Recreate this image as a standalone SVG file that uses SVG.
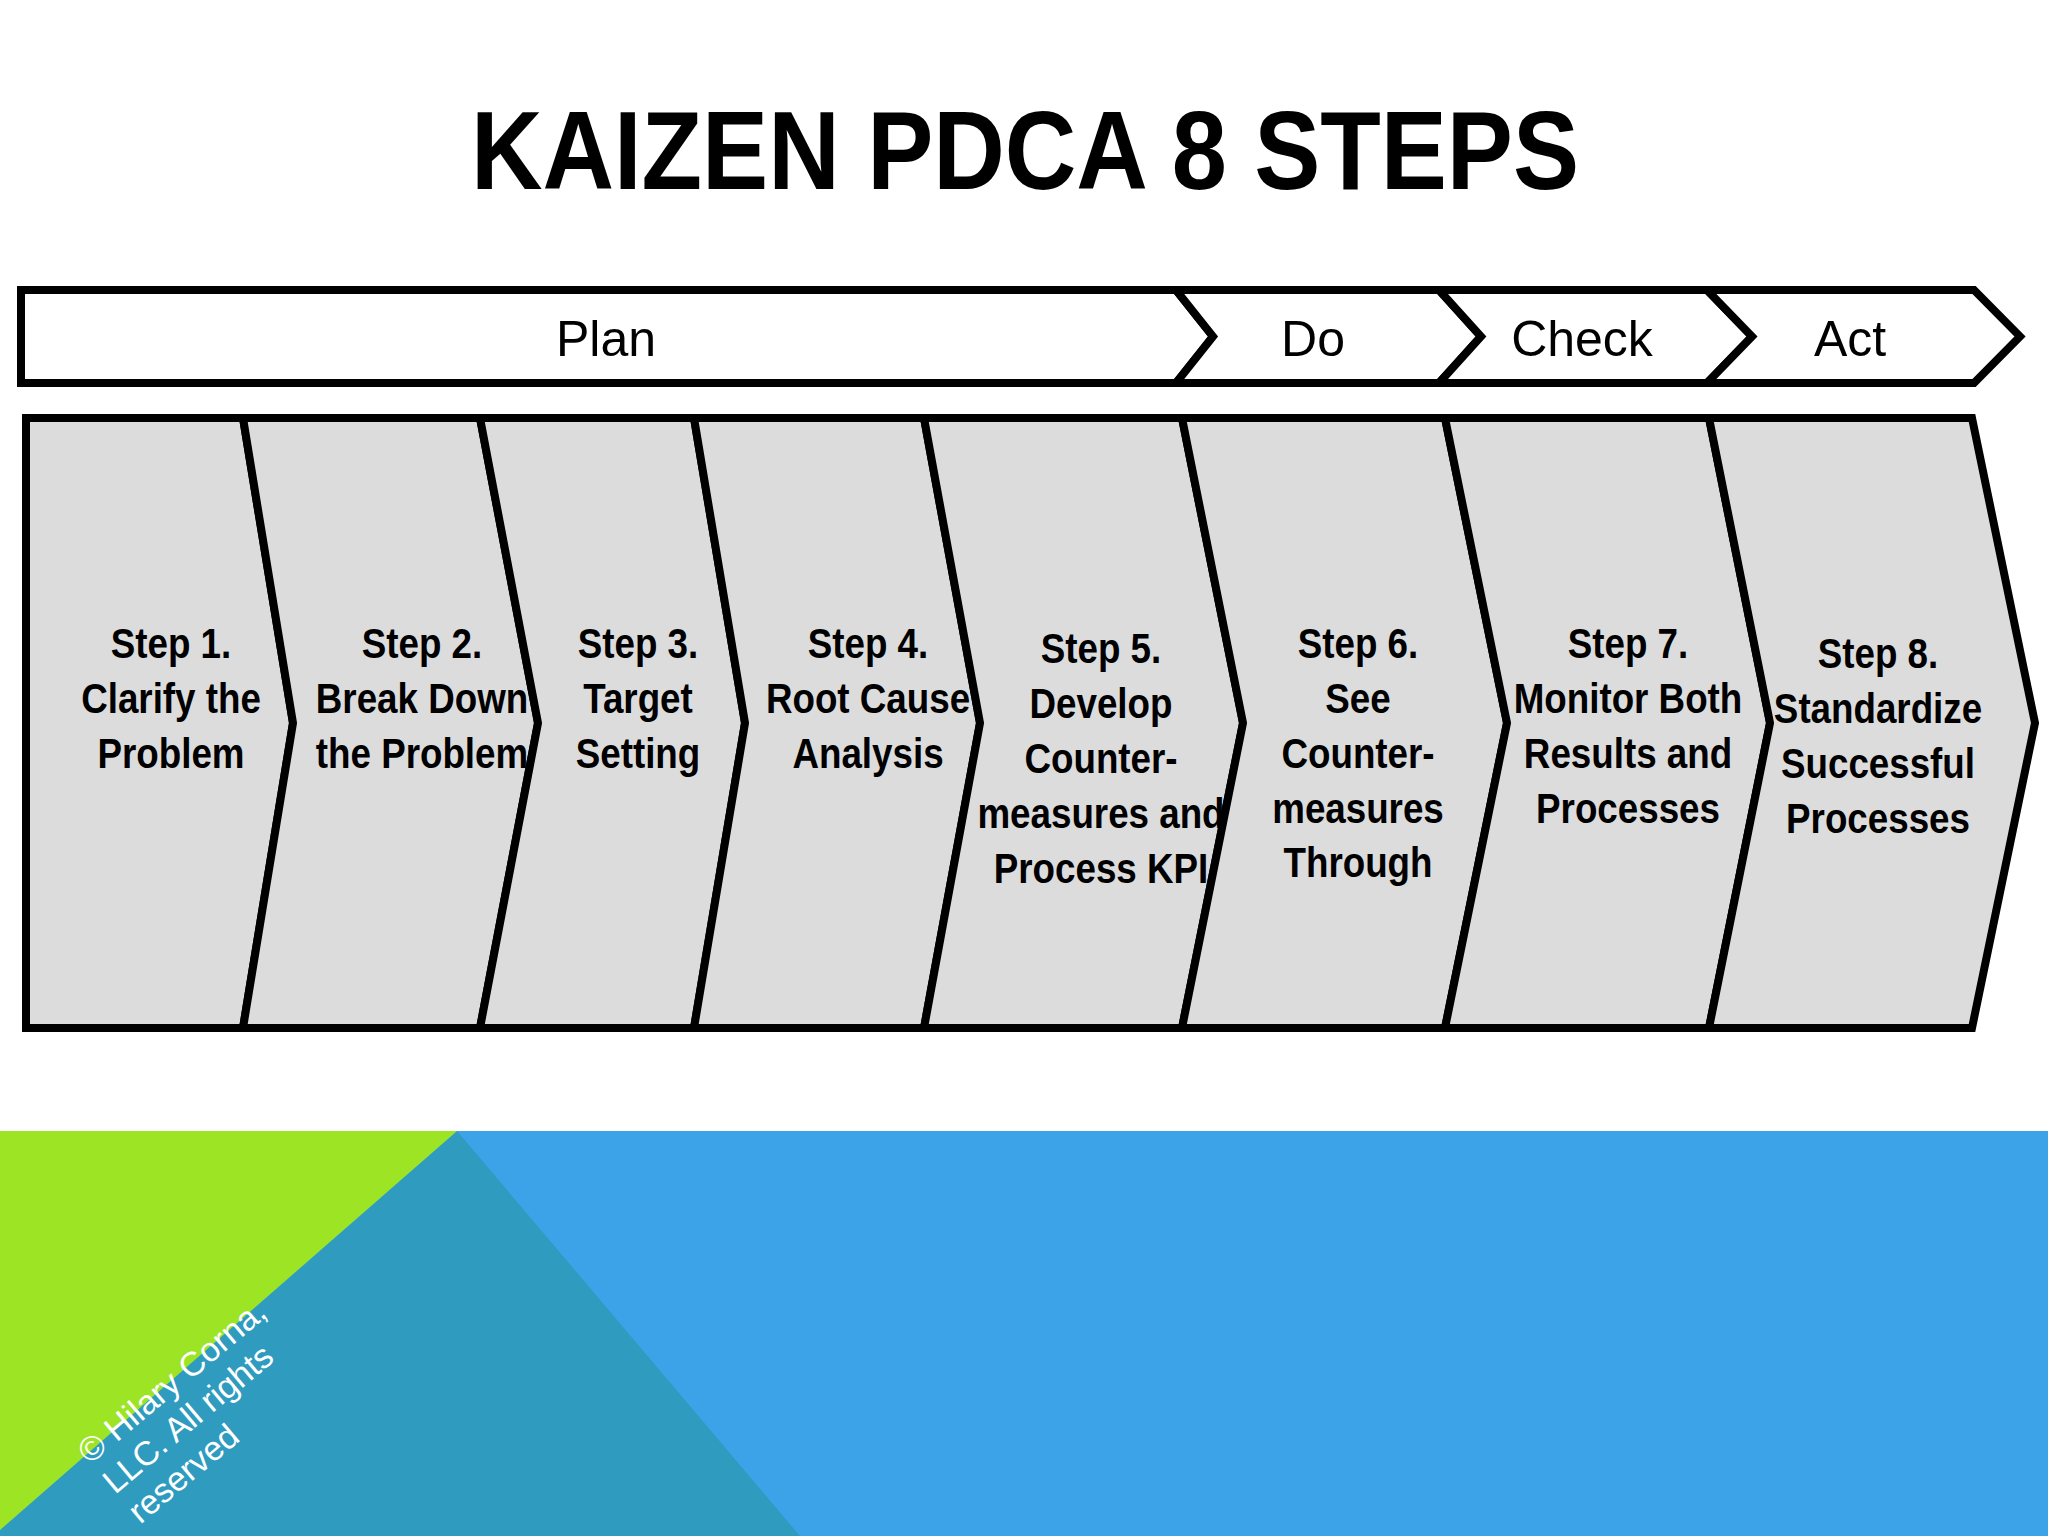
<svg xmlns="http://www.w3.org/2000/svg" width="2048" height="1536" viewBox="0 0 2048 1536">
  <style>
    .bar { fill: #ffffff; stroke: #000000; stroke-width: 8; stroke-linejoin: miter; }
    .chev { fill: #dcdcdc; stroke: #000000; stroke-width: 8; stroke-linejoin: miter; }
    .phase { font-family: "Liberation Sans", Arial, sans-serif; font-size: 50px; fill: #000000; text-anchor: middle; }
    .st { font-family: "Liberation Sans", Arial, sans-serif; font-weight: bold; font-size: 42px; fill: #000000; text-anchor: middle; }
    .title { font-family: "Liberation Sans", Arial, sans-serif; font-weight: bold; font-size: 112px; fill: #000000; text-anchor: middle; }
    .copy { font-family: "Liberation Sans", Arial, sans-serif; font-size: 34px; fill: #ffffff; }
  </style>
  <rect x="0" y="0" width="2048" height="1536" fill="#ffffff"/>

  <!-- bottom decoration -->
  <g id="footer">
    <rect x="0" y="1131" width="2048" height="405" fill="#3ca3e8"/>
    <polygon points="457,1131 800,1536 0,1536 0,1530" fill="#2e9bbf"/>
    <polygon points="0,1131 457,1131 0,1530" fill="#9de524"/>
    <text class="copy" transform="translate(90,1465) rotate(-40)"><tspan x="0" y="0">© Hilary Corna,</tspan><tspan x="0" y="39">LLC. All rights</tspan><tspan x="0" y="78">reserved</tspan></text>
  </g>

  <text id="title" class="title" x="1025" y="189" textLength="1108" lengthAdjust="spacingAndGlyphs">KAIZEN PDCA 8 STEPS</text>

  <!-- phase bar -->
  <g id="phase-plan">
    <path class="bar" d="M21,290 L1176,290 L1213,336.5 L1176,383 L21,383 Z"/>
    <text class="phase" x="606" y="356">Plan</text>
  </g>
  <g id="phase-do">
    <path class="bar" d="M1176,290 L1439,290 L1481,336.5 L1439,383 L1176,383 L1213,336.5 Z"/>
    <text class="phase" x="1313" y="356">Do</text>
  </g>
  <g id="phase-check">
    <path class="bar" d="M1439,290 L1707,290 L1752,336.5 L1707,383 L1439,383 L1481,336.5 Z"/>
    <text class="phase" x="1582" y="356">Check</text>
  </g>
  <g id="phase-act">
    <path class="bar" d="M1707,290 L1974,290 L2020,336.5 L1974,383 L1707,383 L1752,336.5 Z"/>
    <text class="phase" x="1850" y="356">Act</text>
  </g>

  <!-- steps -->
  <g id="step1">
    <path class="chev" d="M26,418 L243,418 L293,723 L243,1028 L26,1028 Z"/>
    <text class="st" transform="translate(171,0) scale(0.875,1)"><tspan x="0" y="658">Step 1.</tspan><tspan x="0" y="713">Clarify the</tspan><tspan x="0" y="768">Problem</tspan></text>
  </g>
  <g id="step2">
    <path class="chev" d="M243,418 L480,418 L538,723 L480,1028 L243,1028 L293,723 Z"/>
    <text class="st" transform="translate(422,0) scale(0.875,1)"><tspan x="0" y="658">Step 2.</tspan><tspan x="0" y="713">Break Down</tspan><tspan x="0" y="768">the Problem</tspan></text>
  </g>
  <g id="step3">
    <path class="chev" d="M480,418 L694,418 L745,723 L694,1028 L480,1028 L538,723 Z"/>
    <text class="st" transform="translate(638,0) scale(0.875,1)"><tspan x="0" y="658">Step 3.</tspan><tspan x="0" y="713">Target</tspan><tspan x="0" y="768">Setting</tspan></text>
  </g>
  <g id="step4">
    <path class="chev" d="M694,418 L924,418 L980,723 L924,1028 L694,1028 L745,723 Z"/>
    <text class="st" transform="translate(868,0) scale(0.875,1)"><tspan x="0" y="658">Step 4.</tspan><tspan x="0" y="713">Root Cause</tspan><tspan x="0" y="768">Analysis</tspan></text>
  </g>
  <g id="step5">
    <path class="chev" d="M924,418 L1182,418 L1243,723 L1182,1028 L924,1028 L980,723 Z"/>
    <text class="st" transform="translate(1101,0) scale(0.875,1)"><tspan x="0" y="663">Step 5.</tspan><tspan x="0" y="718">Develop</tspan><tspan x="0" y="773">Counter-</tspan><tspan x="0" y="828">measures and</tspan><tspan x="0" y="883">Process KPI</tspan></text>
  </g>
  <g id="step6">
    <path class="chev" d="M1182,418 L1445,418 L1507,723 L1445,1028 L1182,1028 L1243,723 Z"/>
    <text class="st" transform="translate(1358,0) scale(0.875,1)"><tspan x="0" y="658">Step 6.</tspan><tspan x="0" y="713">See</tspan><tspan x="0" y="768">Counter-</tspan><tspan x="0" y="823">measures</tspan><tspan x="0" y="877">Through</tspan></text>
  </g>
  <g id="step7">
    <path class="chev" d="M1445,418 L1709,418 L1770,723 L1709,1028 L1445,1028 L1507,723 Z"/>
    <text class="st" transform="translate(1628,0) scale(0.875,1)"><tspan x="0" y="658">Step 7.</tspan><tspan x="0" y="713">Monitor Both</tspan><tspan x="0" y="768">Results and</tspan><tspan x="0" y="823">Processes</tspan></text>
  </g>
  <g id="step8">
    <path class="chev" d="M1709,418 L1972,418 L2035,723 L1972,1028 L1709,1028 L1770,723 Z"/>
    <text class="st" transform="translate(1878,0) scale(0.875,1)"><tspan x="0" y="668">Step 8.</tspan><tspan x="0" y="723">Standardize</tspan><tspan x="0" y="778">Successful</tspan><tspan x="0" y="833">Processes</tspan></text>
  </g>

  <g id="connectors"></g>
</svg>
